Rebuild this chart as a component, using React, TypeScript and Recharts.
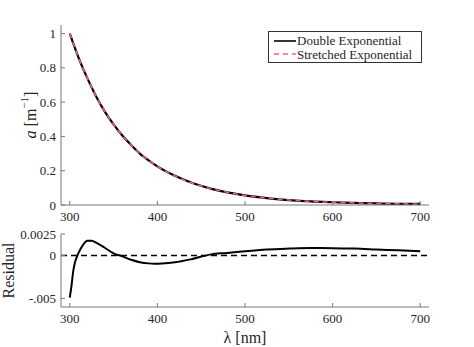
import React from "react";
import { LineChart, Line, XAxis, YAxis, ReferenceLine, Legend } from "recharts";

// absorption fits
const wavelengths = [300, 310, 320, 330, 340, 350, 360, 370, 380, 390, 400, 420, 440, 460, 480, 500, 525, 550, 575, 600, 625, 650, 675, 700];
const doubleExp = [1.0, 0.86, 0.74, 0.635, 0.545, 0.47, 0.405, 0.35, 0.3, 0.26, 0.225, 0.17, 0.128, 0.097, 0.074, 0.056, 0.04, 0.029, 0.021, 0.016, 0.012, 0.009, 0.007, 0.006];
const stretchedExp = [1.0, 0.86, 0.74, 0.635, 0.545, 0.47, 0.405, 0.35, 0.3, 0.26, 0.225, 0.17, 0.128, 0.097, 0.074, 0.056, 0.04, 0.029, 0.021, 0.016, 0.012, 0.009, 0.007, 0.006];

// residual between the two fits
const residualWavelengths = [300, 302, 304, 306, 308, 310, 315, 320, 325, 330, 340, 350, 360, 370, 380, 390, 397, 405, 420, 440, 460, 480, 500, 525, 550, 575, 600, 625, 650, 675, 700];
const residuals = [-0.0049, -0.0035, -0.0018, -0.0008, -0.0002, 0.0003, 0.0012, 0.00172, 0.0017, 0.0015, 0.0009, 0.00025, -0.0001, -0.0005, -0.00078, -0.00092, -0.00095, -0.00093, -0.0008, -0.0004, 0.0001, 0.0003, 0.0005, 0.0007, 0.0008, 0.00086, 0.00085, 0.0008, 0.0007, 0.0006, 0.0005];

const xTicks = [300, 400, 500, 600, 700];
const aTicks = [0, 0.2, 0.4, 0.6, 0.8, 1];
const aTickLabels = ["0", "0.2", "0.4", "0.6", "0.8", "1"];
const resTicks = [-0.005, 0, 0.0025];
const resTickLabels = ["-.005", "0", "0.0025"];

const FONT = '"Liberation Serif", "Times New Roman", serif';
const FRAME = "#777";
const INK = "#262626";
const PINK = "#f4608a";
const TL = 4;

const textStyle = { fontFamily: FONT, fontSize: 13, fill: INK };
const labelStyle = { fontFamily: FONT, fontSize: 16, fill: INK };

const topData = wavelengths.map((wl, i) => ({ wl, dbl: doubleExp[i], str: stretchedExp[i] }));
const resData = residualWavelengths.map((wl, i) => ({ wl, res: residuals[i] }));

const fmtFrom = (ticks: number[], labels: string[]) => (v: number) => {
  const i = ticks.findIndex((t) => Math.abs(t - v) < 1e-9);
  return i >= 0 ? labels[i] : String(v);
};

const BottomTick = ({ x = 0, y = 0, payload }: any) => (
  <g>
    <line x1={x} x2={x} y1={y} y2={y - TL} stroke={FRAME} />
    <text x={x} y={y + 7} dy="0.71em" textAnchor="middle" style={textStyle}>
      {payload.value}
    </text>
  </g>
);

const TopTick = ({ x = 0, y = 0 }: any) => <line x1={x} x2={x} y1={y} y2={y + TL} stroke={FRAME} />;

const LeftTick = ({ x = 0, y = 0, payload, fmt }: any) => (
  <g>
    <line x1={x} x2={x + TL} y1={y} y2={y} stroke={FRAME} />
    <text x={x - 5} y={y} dy="0.35em" textAnchor="end" style={textStyle}>
      {fmt(payload.value)}
    </text>
  </g>
);

const RightTick = ({ x = 0, y = 0 }: any) => <line x1={x} x2={x - TL} y1={y} y2={y} stroke={FRAME} />;

const renderALabel = (props: any) => {
  const vb = props.viewBox || { x: 0, y: 25, width: 61, height: 180 };
  const cx = 30;
  const cy = vb.y + vb.height / 2;
  return (
    <text x={cx} y={cy} transform={`rotate(-90 ${cx} ${cy})`} textAnchor="middle" dominantBaseline="central" style={labelStyle}>
      <tspan fontStyle="italic">a</tspan>
      <tspan> [m</tspan>
      <tspan dy={-6} style={{ fontSize: 11 }}>−1</tspan>
      <tspan dy={6}>]</tspan>
    </text>
  );
};

const renderResLabel = (props: any) => {
  const vb = props.viewBox || { x: 0, y: 9, width: 61, height: 73 };
  const cx = 8;
  const cy = vb.y + vb.height / 2;
  return (
    <text x={cx} y={cy} transform={`rotate(-90 ${cx} ${cy})`} textAnchor="middle" dominantBaseline="central" style={labelStyle}>
      Residual
    </text>
  );
};

const renderLambdaLabel = (props: any) => {
  const vb = props.viewBox || { x: 61, y: 82, width: 368, height: 40 };
  return (
    <text x={vb.x + vb.width / 2} y={vb.y + 30} textAnchor="middle" dominantBaseline="central" style={labelStyle}>
      λ [nm]
    </text>
  );
};

const renderLegend = () => (
  <div
    style={{
      width: 152,
      height: 28,
      border: "1px solid #333",
      background: "#fff",
      fontFamily: FONT,
      fontSize: 13,
      color: INK,
      lineHeight: "13px",
      paddingTop: 2,
      boxSizing: "content-box",
    }}
  >
    {[
      { name: "Double Exponential", color: "#000", dash: undefined },
      { name: "Stretched Exponential", color: PINK, dash: "5 4" },
    ].map((e) => (
      <div key={e.name} style={{ display: "flex", alignItems: "center", height: 13.5, whiteSpace: "nowrap" }}>
        <svg width={28} height={10} style={{ flex: "none" }}>
          <line x1={5} x2={27} y1={5} y2={5} stroke={e.color} strokeWidth={1.6} strokeDasharray={e.dash} />
        </svg>
        <span>{e.name}</span>
      </div>
    ))}
  </div>
);

export default function App() {
  return (
    <div style={{ position: "absolute", left: 0, top: 0, width: 474, height: 347, background: "#fff" }}>
      <div style={{ position: "absolute", left: 0, top: 0 }}>
        <LineChart width={474} height={225} data={topData} margin={{ top: 25, right: 45, left: 0, bottom: 0 }}>
          <XAxis xAxisId="b" dataKey="wl" type="number" domain={[290, 710]} ticks={xTicks} interval={0} height={20}
            tickSize={0} tickMargin={0} axisLine={{ stroke: FRAME }} tickLine={false} tick={<BottomTick />} />
          <XAxis xAxisId="t" orientation="top" dataKey="wl" type="number" domain={[290, 710]} ticks={xTicks} interval={0} height={0}
            tickSize={0} tickMargin={0} axisLine={{ stroke: FRAME }} tickLine={false} tick={<TopTick />} />
          <YAxis yAxisId="l" type="number" domain={[0, 1.05]} ticks={aTicks} interval={0} width={61}
            tickSize={0} tickMargin={0} axisLine={{ stroke: FRAME }} tickLine={false}
            tick={<LeftTick fmt={fmtFrom(aTicks, aTickLabels)} />} label={renderALabel} />
          <YAxis yAxisId="r" orientation="right" type="number" domain={[0, 1.05]} ticks={aTicks} interval={0} width={0}
            tickSize={0} tickMargin={0} axisLine={{ stroke: FRAME }} tickLine={false} tick={<RightTick />} />
          <Legend layout="vertical" align="center" verticalAlign="middle" content={renderLegend}
            wrapperStyle={{ left: 268, top: 31, width: 154, height: 31 }} />
          <Line xAxisId="b" yAxisId="l" type="monotone" dataKey="dbl" name="Double Exponential" stroke="#000" strokeWidth={2.2} dot={false} isAnimationActive={false} />
          <Line xAxisId="b" yAxisId="l" type="monotone" dataKey="str" name="Stretched Exponential" stroke={PINK} strokeWidth={1.5} strokeDasharray="5 4" dot={false} isAnimationActive={false} />
        </LineChart>
      </div>
      <div style={{ position: "absolute", left: 0, top: 225 }}>
        <LineChart width={474} height={122} data={resData} margin={{ top: 9, right: 45, left: 0, bottom: 0 }}>
          <XAxis xAxisId="b" dataKey="wl" type="number" domain={[290, 710]} ticks={xTicks} interval={0} height={40}
            tickSize={0} tickMargin={0} axisLine={{ stroke: FRAME }} tickLine={false} tick={<BottomTick />} label={renderLambdaLabel} />
          <XAxis xAxisId="t" orientation="top" dataKey="wl" type="number" domain={[290, 710]} ticks={xTicks} interval={0} height={0}
            tickSize={0} tickMargin={0} axisLine={{ stroke: FRAME }} tickLine={false} tick={<TopTick />} />
          <YAxis yAxisId="l" type="number" domain={[-0.006, 0.0025]} ticks={resTicks} interval={0} width={61}
            tickSize={0} tickMargin={0} axisLine={{ stroke: FRAME }} tickLine={false}
            tick={<LeftTick fmt={fmtFrom(resTicks, resTickLabels)} />} label={renderResLabel} />
          <YAxis yAxisId="r" orientation="right" type="number" domain={[-0.006, 0.0025]} ticks={resTicks} interval={0} width={0}
            tickSize={0} tickMargin={0} axisLine={{ stroke: FRAME }} tickLine={false} tick={<RightTick />} />
          <ReferenceLine xAxisId="b" yAxisId="l" y={0} stroke="#000" strokeWidth={1.6} strokeDasharray="6 4" />
          <Line xAxisId="b" yAxisId="l" type="monotone" dataKey="res" stroke="#000" strokeWidth={2} dot={false} isAnimationActive={false} />
        </LineChart>
      </div>
    </div>
  );
}
